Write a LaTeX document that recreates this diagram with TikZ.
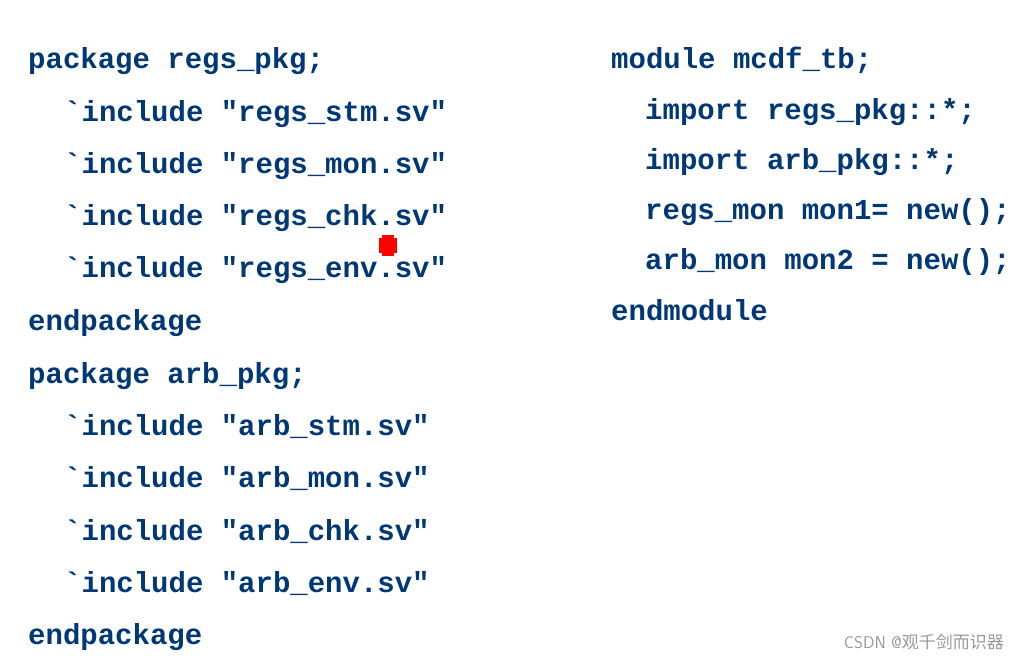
\documentclass[tikz,border=0pt]{standalone}
\usepackage{fontspec}
\setmonofont{Liberation Mono}
\newfontfamily\cjk{Noto Sans CJK SC}
\definecolor{codeblue}{RGB}{0,56,118}
\begin{document}
\begin{tikzpicture}[x=1pt,y=-1pt,
  code/.style={anchor=base west,inner sep=0pt,text=codeblue,font=\fontsize{29}{29}\ttfamily\bfseries}]
\useasboundingbox (0,0) rectangle (1019,661);
\fill[white] (0,0) rectangle (1019,661);
\node[code] (l1) at (28,69) {package regs\_pkg;};
\node[code] (l2) at (64,121) {`include "regs\_stm.sv"};
\node[code] (l3) at (64,173) {`include "regs\_mon.sv"};
\node[code] (l4) at (64,225) {`include "regs\_chk.sv"};
\node[code] (l5) at (64,277) {`include "regs\_env.sv"};
\node[code] (l6) at (28,330) {endpackage};
\node[code] (l7) at (28,383) {package arb\_pkg;};
\node[code] (l8) at (64,435) {`include "arb\_stm.sv"};
\node[code] (l9) at (64,487) {`include "arb\_mon.sv"};
\node[code] (l10) at (64,540) {`include "arb\_chk.sv"};
\node[code] (l11) at (64,592) {`include "arb\_env.sv"};
\node[code] (l12) at (28,644) {endpackage};
\node[code] (r1) at (611,68) {module mcdf\_tb;};
\node[code] (r2) at (645,119) {import regs\_pkg::*;};
\node[code] (r3) at (645,169) {import arb\_pkg::*;};
\node[code] (r4) at (645,219) {regs\_mon mon1= new();};
\node[code] (r5) at (645,269) {arb\_mon mon2 = new();};
\node[code] (r6) at (611,320) {endmodule};
\fill[red] (379,238) rectangle (397,253);
\fill[red] (382,235) rectangle (394,256);
\node[anchor=base east,inner sep=0pt,text=gray!80,font=\fontsize{17}{17}\sffamily] (wm) at (1004,648) {CSDN @{\cjk 观千剑而识器}};
\end{tikzpicture}
\end{document}
